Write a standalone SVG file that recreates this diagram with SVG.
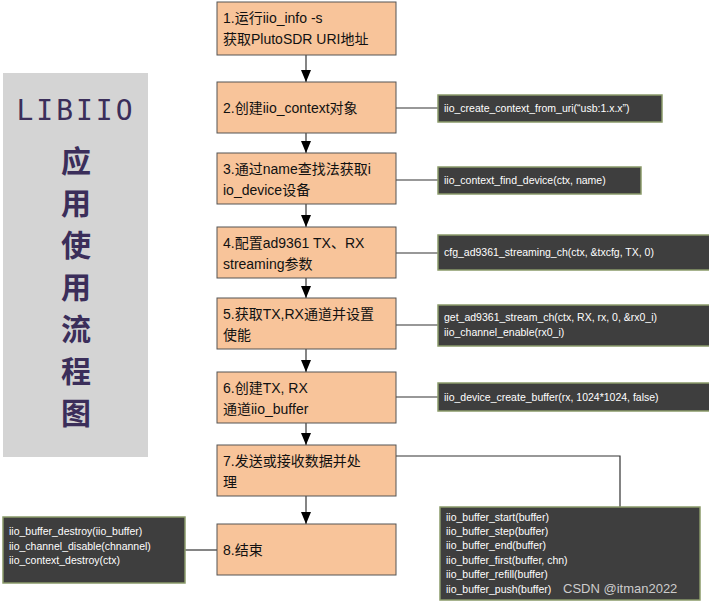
<svg xmlns="http://www.w3.org/2000/svg" width="709" height="605" viewBox="0 0 709 605">
<defs>
<style>
.n{fill:#f8c49a;stroke:#555;stroke-width:1}
.t{font-family:"Liberation Sans","Noto Sans CJK SC",sans-serif;font-size:14px;fill:#111}
.d{fill:#3e3e3e;stroke:#8a9a6a;stroke-width:1.5}
.c{font-family:"Liberation Sans Narrow","Liberation Sans",sans-serif;font-size:10.5px;fill:#fff}
.l{stroke:#333;stroke-width:1.2;fill:none}
.side{font-family:"Noto Sans CJK SC",sans-serif;font-size:30px;font-weight:bold;fill:#3b2e5a;text-anchor:middle}
</style>
<marker id="a" markerWidth="12" markerHeight="10" refX="12" refY="5" orient="auto" markerUnits="userSpaceOnUse"><path d="M0,0 L12,5 L0,10 Z" fill="#000"/></marker>
</defs>
<rect width="709" height="605" fill="#fff"/>
<g id="side">
<rect x="3" y="73" width="145" height="384" fill="#d4d4d4"/>
<text class="side" x="76" y="120" style="font-family:'DejaVu Sans Mono',monospace;font-size:28px;font-weight:normal;letter-spacing:3px">LIBIIO</text>
<text class="side" x="76" y="172">应</text>
<text class="side" x="76" y="214">用</text>
<text class="side" x="76" y="256">使</text>
<text class="side" x="76" y="298">用</text>
<text class="side" x="76" y="340">流</text>
<text class="side" x="76" y="382">程</text>
<text class="side" x="76" y="424">图</text>
</g>
<g id="connectors">
<line class="l" x1="306" y1="55" x2="306" y2="82" marker-end="url(#a)"/>
<line class="l" x1="306" y1="133" x2="306" y2="153" marker-end="url(#a)"/>
<line class="l" x1="306" y1="204" x2="306" y2="227" marker-end="url(#a)"/>
<line class="l" x1="306" y1="278" x2="306" y2="298" marker-end="url(#a)"/>
<line class="l" x1="306" y1="349" x2="306" y2="372" marker-end="url(#a)"/>
<line class="l" x1="306" y1="423" x2="306" y2="445" marker-end="url(#a)"/>
<line class="l" x1="306" y1="496" x2="306" y2="524" marker-end="url(#a)"/>
<line class="l" x1="396" y1="108" x2="438" y2="108"/>
<line class="l" x1="396" y1="180" x2="438" y2="180"/>
<line class="l" x1="396" y1="253" x2="438" y2="253"/>
<line class="l" x1="396" y1="325" x2="438" y2="325"/>
<line class="l" x1="396" y1="397" x2="438" y2="397"/>
<polyline class="l" points="396,456 620,456 620,507"/>
<line class="l" x1="217" y1="550" x2="185" y2="550"/>
</g>
<g id="n1"><rect class="n" x="217" y="2" width="179" height="53"/><text class="t" x="223" y="23">1.运行iio_info -s</text><text class="t" x="223" y="44">获取PlutoSDR URI地址</text></g>
<g id="n2"><rect class="n" x="217" y="82" width="179" height="51"/><text class="t" x="223" y="113">2.创建iio_context对象</text></g>
<g id="n3"><rect class="n" x="217" y="153" width="179" height="51"/><text class="t" x="223" y="174">3.通过name查找法获取i</text><text class="t" x="223" y="195">io_device设备</text></g>
<g id="n4"><rect class="n" x="217" y="227" width="179" height="51"/><text class="t" x="223" y="248">4.配置ad9361 TX、RX</text><text class="t" x="223" y="269">streaming参数</text></g>
<g id="n5"><rect class="n" x="217" y="298" width="179" height="51"/><text class="t" x="223" y="319">5.获取TX,RX通道并设置</text><text class="t" x="223" y="340">使能</text></g>
<g id="n6"><rect class="n" x="217" y="372" width="179" height="51"/><text class="t" x="223" y="393">6.创建TX, RX</text><text class="t" x="223" y="414">通道iio_buffer</text></g>
<g id="n7"><rect class="n" x="217" y="445" width="179" height="51"/><text class="t" x="223" y="466">7.发送或接收数据并处</text><text class="t" x="223" y="487">理</text></g>
<g id="n8"><rect class="n" x="217" y="524" width="179" height="51"/><text class="t" x="223" y="555">8.结束</text></g>
<g id="c2"><rect class="d" x="438" y="95" width="224" height="27"/><text class="c" x="444" y="112">iio_create_context_from_uri(“usb:1.x.x”)</text></g>
<g id="c3"><rect class="d" x="438" y="167" width="203" height="27"/><text class="c" x="444" y="184">iio_context_find_device(ctx, name)</text></g>
<g id="c4"><rect class="d" x="438" y="235" width="272" height="35"/><text class="c" x="444" y="256">cfg_ad9361_streaming_ch(ctx, &amp;txcfg, TX, 0)</text></g>
<g id="c5"><rect class="d" x="438" y="305" width="272" height="41"/><text class="c" x="444" y="321">get_ad9361_stream_ch(ctx, RX, rx, 0, &amp;rx0_i)</text><text class="c" x="444" y="336">iio_channel_enable(rx0_i)</text></g>
<g id="c6"><rect class="d" x="438" y="383" width="272" height="28"/><text class="c" x="444" y="401">iio_device_create_buffer(rx, 1024*1024, false)</text></g>
<g id="c7"><rect class="d" x="440" y="507" width="260" height="93"/>
<text class="c" x="446" y="521">iio_buffer_start(buffer)</text>
<text class="c" x="446" y="535">iio_buffer_step(buffer)</text>
<text class="c" x="446" y="549">iio_buffer_end(buffer)</text>
<text class="c" x="446" y="564">iio_buffer_first(buffer, chn)</text>
<text class="c" x="446" y="578">iio_buffer_refill(buffer)</text>
<text class="c" x="446" y="593">iio_buffer_push(buffer)</text></g>
<g id="c8"><rect class="d" x="3" y="517" width="182" height="66"/>
<text class="c" x="9" y="535">iio_buffer_destroy(iio_buffer)</text>
<text class="c" x="9" y="550">iio_channel_disable(chnannel)</text>
<text class="c" x="9" y="564">iio_context_destroy(ctx)</text></g>
<text x="563" y="593" style="font-family:'Liberation Sans',sans-serif;font-size:13px;fill:#ccc">CSDN @itman2022</text>
</svg>
